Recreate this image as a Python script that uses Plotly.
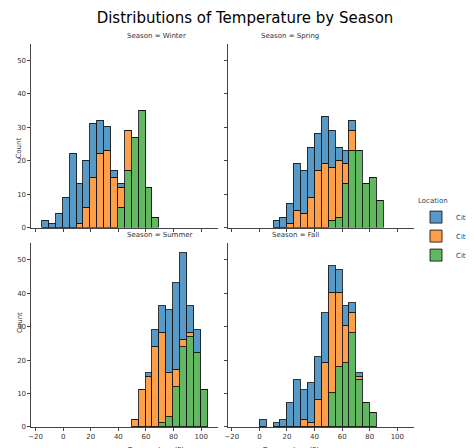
import plotly.graph_objects as go

# bin left edges (width 5 F) and stacked counts per city
winter_bins = [-15, -10, -5, 0, 5, 10, 15, 20, 25, 30, 35, 40, 45, 50, 55, 60, 65]
winter_a = [2, 1, 4, 9, 22, 12, 14, 16, 10, 7, 2, 1, 0, 0, 0, 0, 0]
winter_b = [0, 0, 0, 0, 0, 1, 6, 15, 22, 23, 15, 6, 12, 0, 0, 0, 0]
winter_c = [0, 0, 0, 0, 0, 0, 0, 0, 0, 0, 0, 6, 17, 27, 35, 12, 3]

spring_bins = [10, 15, 20, 25, 30, 35, 40, 45, 50, 55, 60, 65, 70, 75, 80, 85]
spring_a = [2, 3, 6, 14, 13, 15, 11, 14, 11, 4, 4, 3, 0, 0, 0, 0]
spring_b = [0, 0, 1, 5, 4, 9, 17, 19, 16, 17, 6, 6, 0, 0, 0, 0]
spring_c = [0, 0, 0, 0, 0, 0, 0, 0, 2, 3, 13, 23, 23, 13, 15, 8]

summer_bins = [50, 55, 60, 65, 70, 75, 80, 85, 90, 95, 100]
summer_a = [0, 0, 1, 5, 8, 19, 26, 26, 8, 7, 0]
summer_b = [2, 11, 15, 24, 27, 13, 5, 2, 1, 0, 0]
summer_c = [0, 0, 0, 0, 1, 3, 12, 24, 27, 22, 11]

fall_bins = [0, 10, 15, 20, 25, 30, 35, 40, 45, 50, 55, 60, 65, 70, 75, 80]
fall_a = [2, 1, 2, 7, 14, 9, 12, 13, 15, 8, 7, 6, 3, 1, 0, 0]
fall_b = [0, 0, 0, 0, 0, 2, 1, 8, 19, 30, 22, 11, 6, 1, 0, 0]
fall_c = [0, 0, 0, 0, 0, 0, 0, 0, 0, 10, 18, 19, 28, 14, 7, 4]

seasons = ["Winter", "Spring", "Summer", "Fall"]
colors = {"City A": "rgba(31,119,180,0.75)", "City B": "rgba(255,127,14,0.75)",
          "City C": "rgba(44,160,44,0.75)"}

data = {
    "Winter": (winter_bins, winter_a, winter_b, winter_c),
    "Spring": (spring_bins, spring_a, spring_b, spring_c),
    "Summer": (summer_bins, summer_a, summer_b, summer_c),
    "Fall": (fall_bins, fall_a, fall_b, fall_c),
}

x_dom = [[0.052, 0.465], [0.487, 0.9]]
y_dom = [[0.51, 0.92], [0.065, 0.475]]

fig = go.Figure()
for i, season in enumerate(seasons):
    n = i + 1
    sfx = "" if n == 1 else str(n)
    bins, a, b, c = data[season]
    # City C at the bottom, City A on top
    for city, vals in [("City C", c), ("City B", b), ("City A", a)]:
        fig.add_trace(go.Bar(
            x=bins, y=vals, offset=0, width=5, name=city,
            marker=dict(color=colors[city], line=dict(color="rgba(20,20,20,0.85)", width=1)),
            xaxis="x" + sfx, yaxis="y" + sfx,
            legendgroup=city, showlegend=(i == 0),
            legendrank={"City A": 1, "City B": 2, "City C": 3}[city],
        ))
    row, col = divmod(i, 2)
    ax = dict(domain=x_dom[col], range=[-23, 112], tickvals=[-20, 0, 20, 40, 60, 80, 100],
              showticklabels=(row == 1), ticks="outside", ticklen=3, showline=True,
              linecolor="#444", showgrid=False, zeroline=False, automargin=False,
              tickfont=dict(size=7, color="#333"))
    ay = dict(domain=y_dom[row], range=[0, 55], tickvals=[0, 10, 20, 30, 40, 50],
              showticklabels=(col == 0), ticks="outside", ticklen=3, showline=True,
              linecolor="#444", showgrid=False, zeroline=False, automargin=False,
              tickfont=dict(size=7, color="#333"))
    if n > 1:
        ax["anchor"] = "y" + sfx
        ay["anchor"] = "x" + sfx
    fig.update_layout(**{"xaxis" + sfx: ax, "yaxis" + sfx: ay})
    fig.add_annotation(text="Season = " + season, x=sum(x_dom[col]) / 2, y=y_dom[row][1] + 0.005,
                       xref="paper", yref="paper", showarrow=False, yanchor="bottom",
                       font=dict(size=7, color="#333"))
    if col == 0:
        fig.add_annotation(text="Count", x=0.012, y=sum(y_dom[row]) / 2, xref="paper", yref="paper",
                           showarrow=False, textangle=-90, font=dict(size=7, color="#333"))
    if row == 1:
        fig.add_annotation(text="Temperature (F)", x=sum(x_dom[col]) / 2, y=0.0, xref="paper",
                           yref="paper", showarrow=False, yanchor="bottom",
                           font=dict(size=7, color="#333"))

fig.update_layout(
    width=474, height=448, barmode="stack", bargap=0,
    margin=dict(l=0, r=0, t=0, b=0),
    paper_bgcolor="white", plot_bgcolor="white",
    font=dict(family="DejaVu Sans"),
    title=dict(text="Distributions of Temperature by Season", x=0.5, y=0.99, yanchor="top",
               font=dict(size=15, color="black")),
    legend=dict(title=dict(text="Location", font=dict(size=7)), font=dict(size=7),
                x=0.905, y=0.5, yanchor="middle", xanchor="left", tracegroupgap=0,
                itemwidth=30, bgcolor="rgba(0,0,0,0)"),
)

fig.write_html("out.html")
